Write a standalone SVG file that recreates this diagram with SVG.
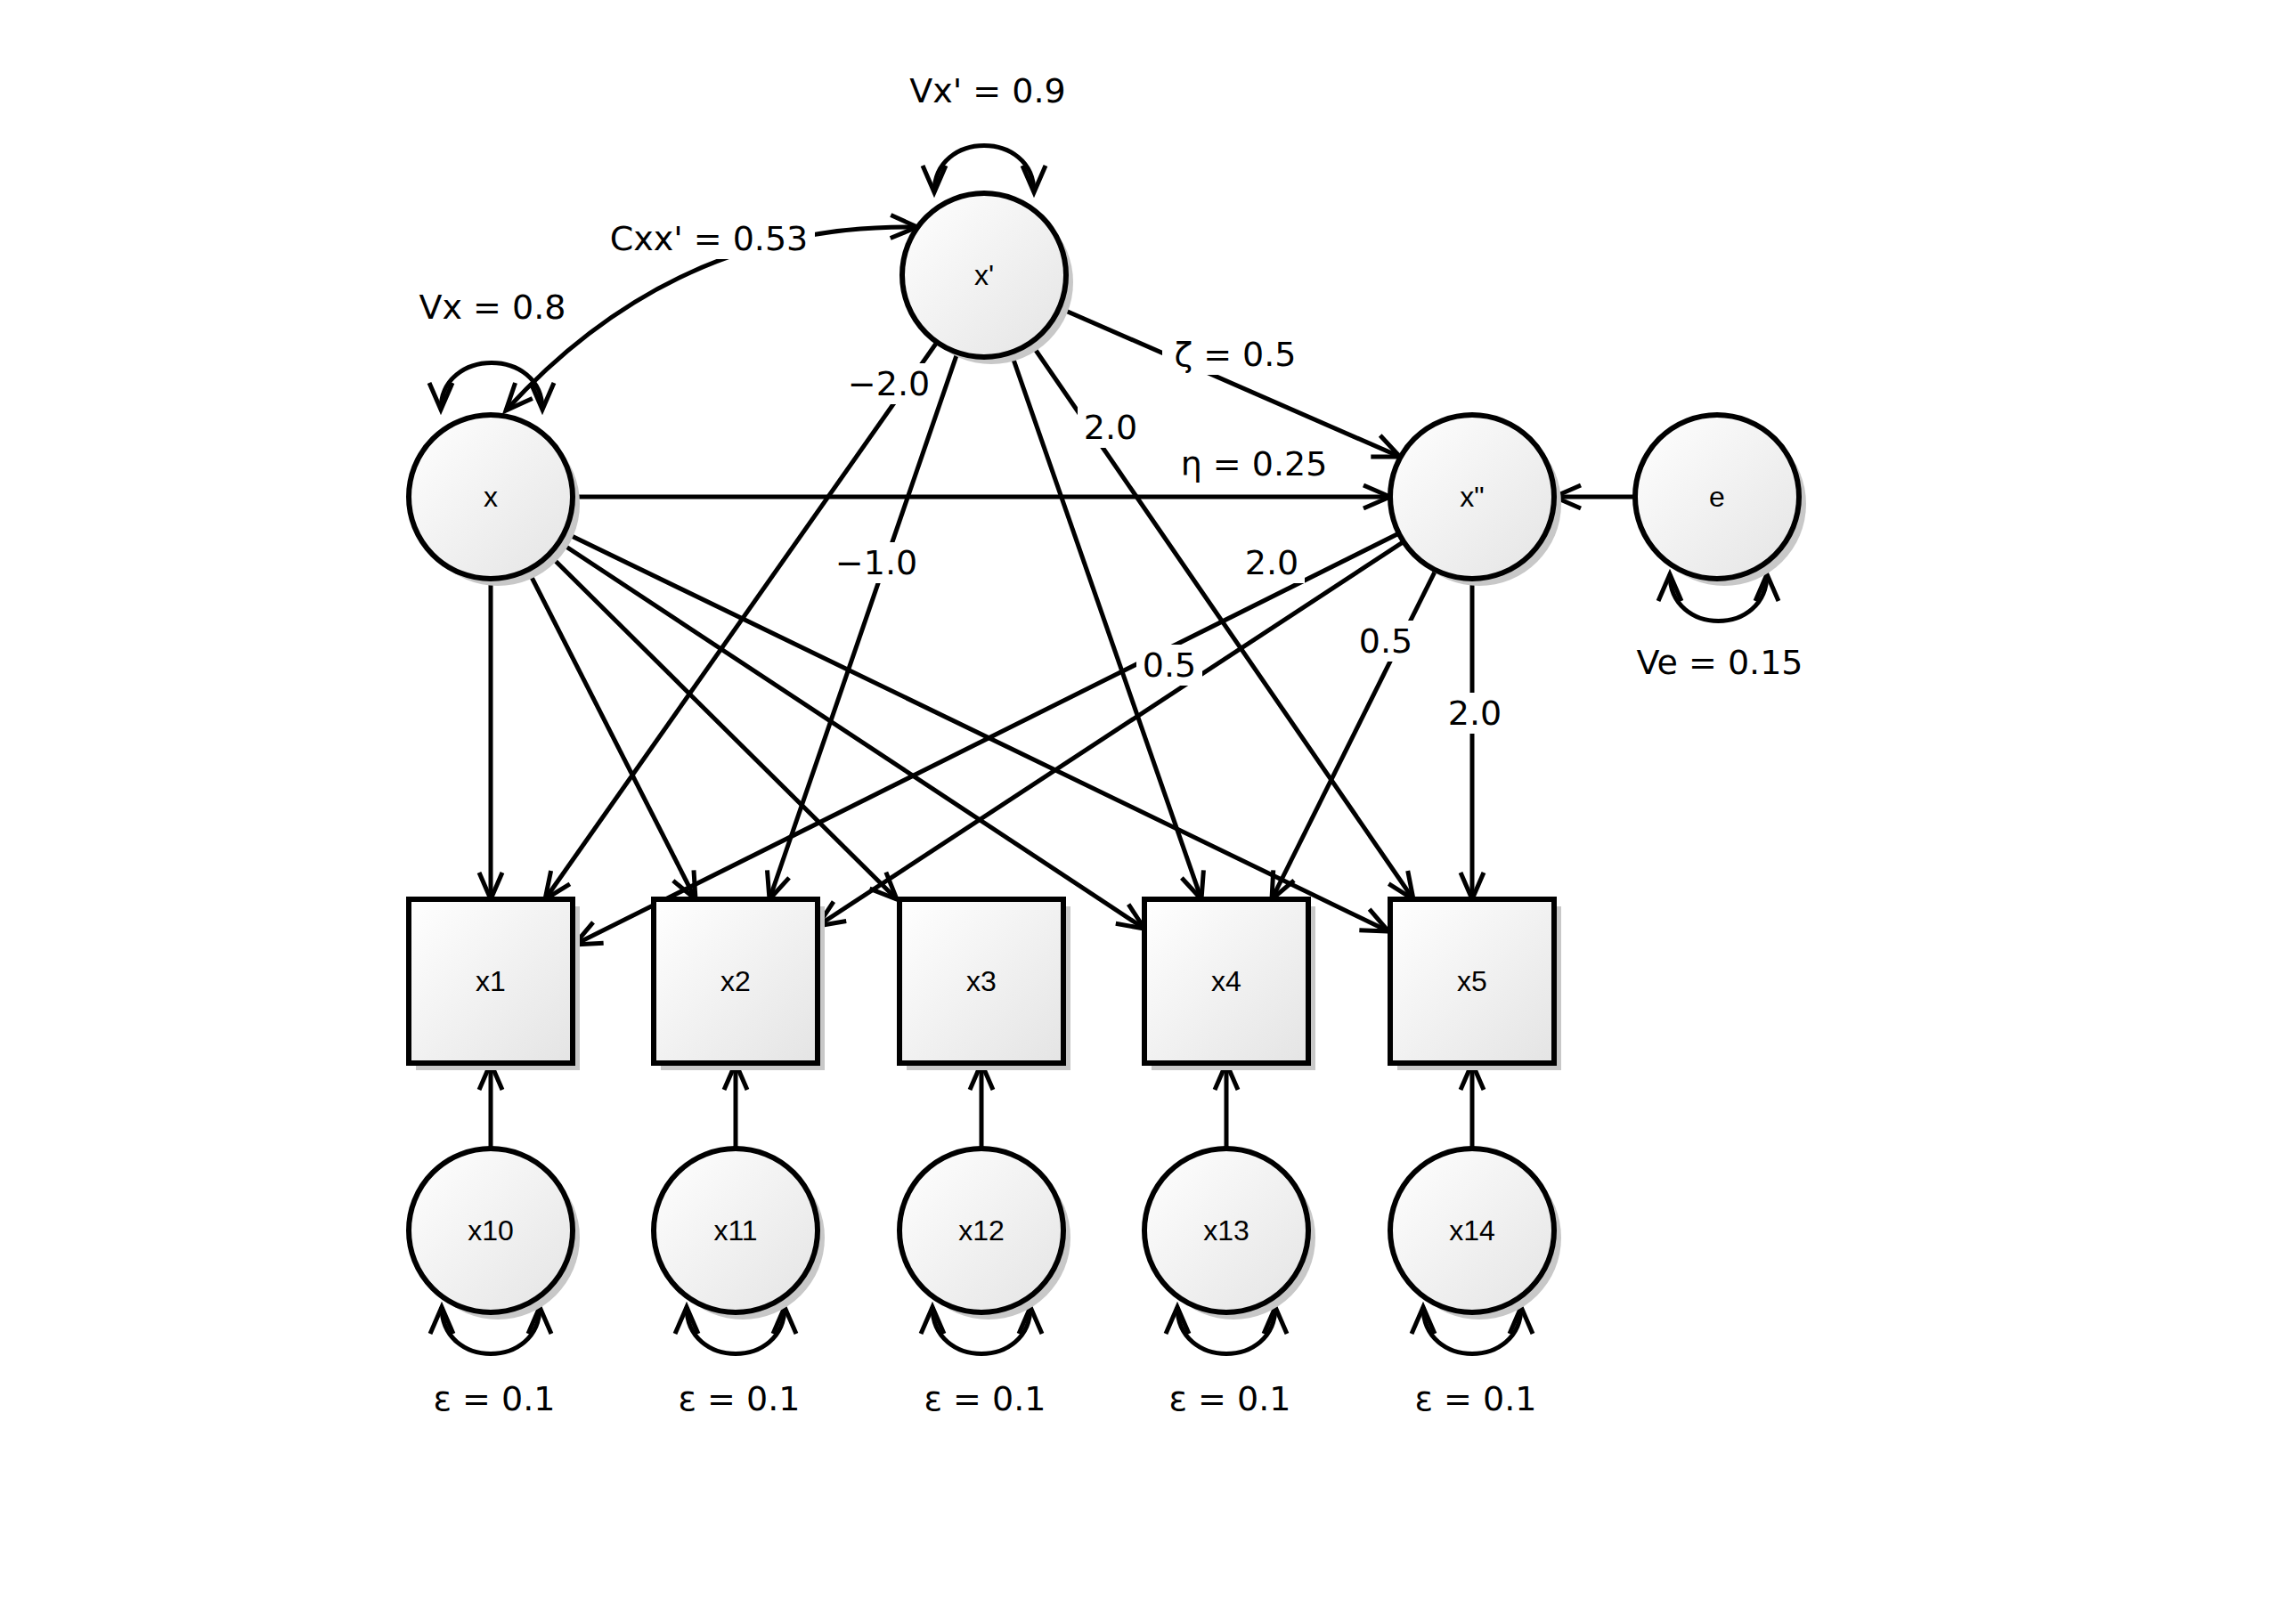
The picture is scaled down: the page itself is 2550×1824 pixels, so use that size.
<svg xmlns="http://www.w3.org/2000/svg" width="2550" height="1824" viewBox="0 0 2550 1824">
<style>
.e{fill:none;stroke:#000;stroke-width:5}
.a{marker-end:url(#h)}
.b{marker-start:url(#h);marker-end:url(#h)}
.n{fill:url(#g);stroke:#000;stroke-width:6}
.s{fill:#c8c8c8}
.t{font-family:"Liberation Sans",Arial,sans-serif;font-size:32px;text-anchor:middle;dominant-baseline:central}
.l{font-family:"DejaVu Sans",sans-serif;font-size:38px;text-anchor:middle;dominant-baseline:central}
.w{fill:#fff}
</style>
<defs>
<linearGradient id="g" x1="0" y1="0" x2="1" y2="1"><stop offset="0" stop-color="#fff"/><stop offset="1" stop-color="#e4e4e4"/></linearGradient>
<marker id="h" markerUnits="userSpaceOnUse" markerWidth="40" markerHeight="40" viewBox="-34 -20 40 40" refX="0" refY="0" orient="auto-start-reverse"><path d="M-30,-13 L0,0 L-30,13" fill="none" stroke="#000" stroke-width="5"/></marker>
</defs>
<rect width="2550" height="1824" fill="#fff"/>
<g id="connectors">
<path class="e a" d="M551,558 L551,1010"/>
<path class="e a" d="M551,558 L781,1010"/>
<path class="e a" d="M551,558 L1007,1010"/>
<path class="e a" d="M551,558 L1285,1043"/>
<path class="e a" d="M551,558 L1559,1046"/>
<path class="e a" d="M551,558 L1561,558"/>
<path class="e a" d="M1105,309 L612,1010"/>
<path class="e a" d="M1105,309 L864,1010"/>
<path class="e a" d="M1105,309 L1349,1010"/>
<path class="e a" d="M1105,309 L1587,1010"/>
<path class="e a" d="M1105,309 L1572,513"/>
<path class="e a" d="M1653,558 L645,1061"/>
<path class="e a" d="M1653,558 L918,1040"/>
<path class="e a" d="M1653,558 L1428,1010"/>
<path class="e a" d="M1653,558 L1653,1010"/>
<path class="e a" d="M1928,558 L1745,558"/>
<path class="e a" d="M551,1290 L551,1194"/>
<path class="e a" d="M826,1290 L826,1194"/>
<path class="e a" d="M1102,1290 L1102,1194"/>
<path class="e a" d="M1377,1290 L1377,1194"/>
<path class="e a" d="M1653,1290 L1653,1194"/>
<path class="e b" d="M568,461 Q760,250 1030,255"/>
<path class="e b" d="M495,460 C495,390 609,390 609,460"/>
<path class="e b" d="M1049,216 C1049,146 1161,146 1161,216"/>
<path class="e b" d="M1875,645 C1875,715 1984,715 1984,645"/>
<path class="e b" d="M496,1468 C496,1538 606,1538 606,1468"/>
<path class="e b" d="M771,1468 C771,1538 881,1538 881,1468"/>
<path class="e b" d="M1047,1468 C1047,1538 1157,1538 1157,1468"/>
<path class="e b" d="M1322,1468 C1322,1538 1432,1538 1432,1468"/>
<path class="e b" d="M1598,1468 C1598,1538 1708,1538 1708,1468"/>
<g>
<rect class="w" x="675" y="245" width="240" height="46"/><text class="l" x="796" y="268">Cxx' = 0.53</text>
<rect class="w" x="1305" y="375" width="165" height="46"/><text class="l" x="1387" y="398">ζ = 0.5</text>
<rect class="w" x="1315" y="498" width="186" height="46"/><text class="l" x="1408" y="521">η = 0.25</text>
<rect class="w" x="950" y="408" width="96" height="46"/><text class="l" x="998" y="431">−2.0</text>
<rect class="w" x="1210" y="457" width="74" height="46"/><text class="l" x="1247" y="480">2.0</text>
<rect class="w" x="936" y="609" width="96" height="46"/><text class="l" x="984" y="632">−1.0</text>
<rect class="w" x="1391" y="609" width="74" height="46"/><text class="l" x="1428" y="632">2.0</text>
<rect class="w" x="1276" y="724" width="74" height="46"/><text class="l" x="1313" y="747">0.5</text>
<rect class="w" x="1519" y="697" width="74" height="46"/><text class="l" x="1556" y="720">0.5</text>
<rect class="w" x="1619" y="778" width="74" height="46"/><text class="l" x="1656" y="801">2.0</text>
<text class="l" x="553" y="345">Vx = 0.8</text>
<text class="l" x="1109" y="102">Vx' = 0.9</text>
<text class="l" x="1931" y="744">Ve = 0.15</text>
<text class="l" x="555" y="1571">ε  = 0.1</text>
<text class="l" x="830" y="1571">ε = 0.1</text>
<text class="l" x="1106" y="1571">ε = 0.1</text>
<text class="l" x="1381" y="1571">ε = 0.1</text>
<text class="l" x="1657" y="1571">ε = 0.1</text>
</g>
</g>
<g id="x"><circle class="s" cx="559" cy="566" r="92"/><circle class="n" cx="551" cy="558" r="92"/><text class="t" x="551" y="558">x</text></g>
<g id="xp"><circle class="s" cx="1113" cy="317" r="92"/><circle class="n" cx="1105" cy="309" r="92"/><text class="t" x="1105" y="309">x'</text></g>
<g id="xpp"><circle class="s" cx="1661" cy="566" r="92"/><circle class="n" cx="1653" cy="558" r="92"/><text class="t" x="1653" y="558">x"</text></g>
<g id="e"><circle class="s" cx="1936" cy="566" r="92"/><circle class="n" cx="1928" cy="558" r="92"/><text class="t" x="1928" y="558">e</text></g>
<g id="x1"><rect class="s" x="467" y="1018" width="184" height="184"/><rect class="n" x="459" y="1010" width="184" height="184"/><text class="t" x="551" y="1102">x1</text></g>
<g id="x2"><rect class="s" x="742" y="1018" width="184" height="184"/><rect class="n" x="734" y="1010" width="184" height="184"/><text class="t" x="826" y="1102">x2</text></g>
<g id="x3"><rect class="s" x="1018" y="1018" width="184" height="184"/><rect class="n" x="1010" y="1010" width="184" height="184"/><text class="t" x="1102" y="1102">x3</text></g>
<g id="x4"><rect class="s" x="1293" y="1018" width="184" height="184"/><rect class="n" x="1285" y="1010" width="184" height="184"/><text class="t" x="1377" y="1102">x4</text></g>
<g id="x5"><rect class="s" x="1569" y="1018" width="184" height="184"/><rect class="n" x="1561" y="1010" width="184" height="184"/><text class="t" x="1653" y="1102">x5</text></g>
<g id="x10"><circle class="s" cx="559" cy="1390" r="92"/><circle class="n" cx="551" cy="1382" r="92"/><text class="t" x="551" y="1382">x10</text></g>
<g id="x11"><circle class="s" cx="834" cy="1390" r="92"/><circle class="n" cx="826" cy="1382" r="92"/><text class="t" x="826" y="1382">x11</text></g>
<g id="x12"><circle class="s" cx="1110" cy="1390" r="92"/><circle class="n" cx="1102" cy="1382" r="92"/><text class="t" x="1102" y="1382">x12</text></g>
<g id="x13"><circle class="s" cx="1385" cy="1390" r="92"/><circle class="n" cx="1377" cy="1382" r="92"/><text class="t" x="1377" y="1382">x13</text></g>
<g id="x14"><circle class="s" cx="1661" cy="1390" r="92"/><circle class="n" cx="1653" cy="1382" r="92"/><text class="t" x="1653" y="1382">x14</text></g>
</svg>
